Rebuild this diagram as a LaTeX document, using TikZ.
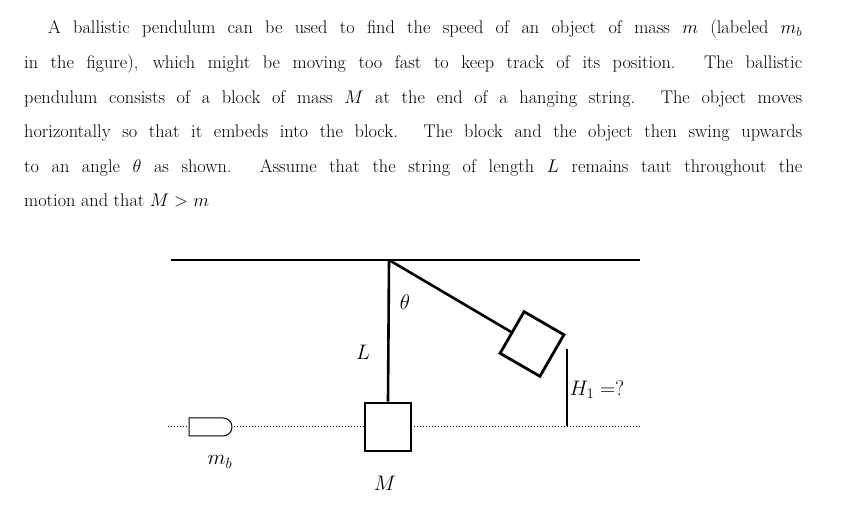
\RequirePackage{fix-cm}
\documentclass[tikz,border=0pt]{standalone}
\usepackage{fontspec}
\tikzset{thick line/.style={line width=2.6pt},
 box/.style={draw,line width=2.8pt,minimum width=46pt,minimum height=48pt,inner sep=0pt},
 lbl/.style={font=\fontsize{21}{24}\selectfont}}
\begin{document}
\begin{tikzpicture}[x=1pt,y=-1pt]
\useasboundingbox (0,0) rectangle (841,510);
\node[anchor=north west,inner sep=0pt,text width=778pt,font=\fontsize{18.3}{34.6}\selectfont,align=justify] (txt) at (24,20) {\hspace*{24pt}A ballistic pendulum can be used to find the speed of an object of mass $m$ (labeled $m_b$\linebreak
in the figure), which might be moving too fast to keep track of its position. The ballistic\linebreak
pendulum consists of a block of mass $M$ at the end of a hanging string. The object moves\linebreak
horizontally so that it embeds into the block. The block and the object then swing upwards\linebreak
to an angle $\theta$ as shown. Assume that the string of length $L$ remains taut throughout the\linebreak
motion and that $M>m$\hfill\null};
\coordinate (cl) at (171,260); \coordinate (cr) at (640,260);
\draw[thick line] (cl) -- (cr);
\coordinate (piv) at (389,260);
\draw[dotted,line width=1pt] (168,427) -- (640,427);
\node[box,fill=white] (blk) at (388,427) {};
\draw[thick line] (piv) -- (blk.north);
\node[box,fill=white,rotate=-30] (blk2) at (532,344) {};
\draw[thick line] (piv) -- (blk2.west);
\coordinate (b1) at (189,418);
\draw[line width=1pt,fill=white] (b1) -- ++(34,0) arc[start angle=90,end angle=-90,radius=9pt] -- ++(-34,0) -- cycle;
\coordinate (h1) at (567,349); \coordinate (h2) at (567,426);
\draw[line width=2pt] (h1) -- (h2);
\node[lbl] (lL) at (363,352) {$L$};
\node[lbl] (lt) at (405,302) {$\theta$};
\node[lbl] (lmb) at (220,462) {$m_b$};
\node[lbl] (lM) at (385,483) {$M$};
\node[lbl,anchor=west] (lH) at (566,390) {$H_1=?$};
\end{tikzpicture}
\end{document}
